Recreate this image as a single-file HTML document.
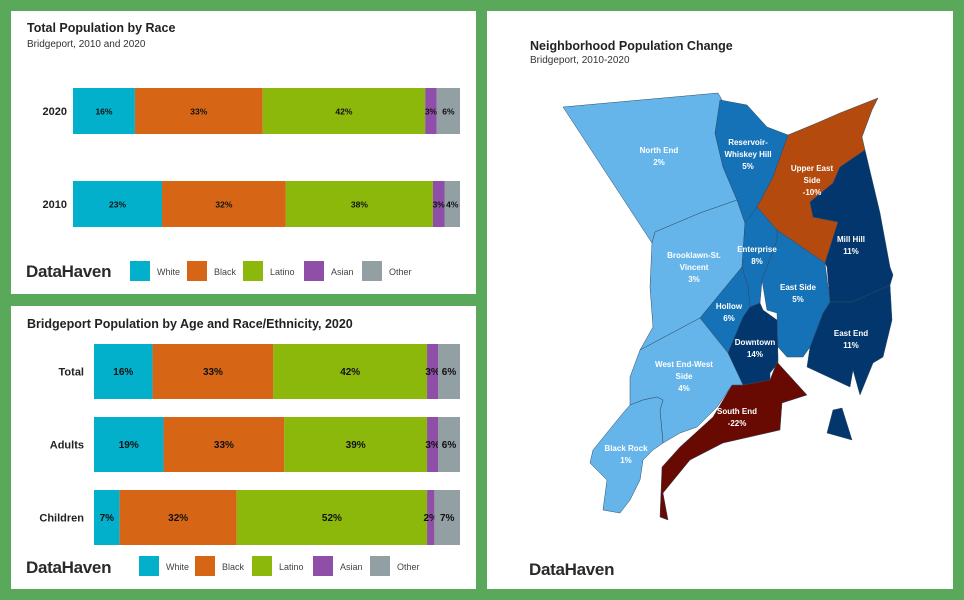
<!DOCTYPE html>
<html><head><meta charset="utf-8">
<style>
body{margin:0;width:964px;height:600px;background:#5aa85a;font-family:"Liberation Sans",sans-serif;position:relative;overflow:hidden}
.panel{position:absolute;background:#fff}
.t{position:absolute;font-weight:bold;font-size:12.5px;color:#222;white-space:nowrap}
.s{position:absolute;font-size:10px;color:#333;white-space:nowrap}
.logo{position:absolute;font-weight:bold;font-size:17px;color:#2a2a2a;letter-spacing:-0.3px}
svg{position:absolute;left:0;top:0}
</style></head><body>
<div class="panel" style="left:11px;top:11px;width:465px;height:283px"></div>
<div class="panel" style="left:11px;top:306px;width:465px;height:283px"></div>
<div class="panel" style="left:487px;top:11px;width:466px;height:578px"></div>
<div class="t" style="left:27px;top:21px">Total Population by Race</div>
<div class="s" style="left:27px;top:39px">Bridgeport, 2010 and 2020</div>
<div class="t" style="left:27px;top:317px">Bridgeport Population by Age and Race/Ethnicity, 2020</div>
<div class="t" style="left:530px;top:39px">Neighborhood Population Change</div>
<div class="s" style="left:530px;top:55px">Bridgeport, 2010-2020</div>
<div class="logo" style="left:26px;top:262px">DataHaven</div>
<div class="logo" style="left:26px;top:558px">DataHaven</div>
<div class="logo" style="left:529px;top:560px">DataHaven</div>
<svg id="svg" width="964" height="600"></svg>
<script>
const races=["White","Black","Latino","Asian","Other"];
const colors=["#02b0cb","#d66615","#8cb70b","#8f4fa8","#929fa3"];
const years=["2020","2010"];
const raceVals2020=[16,33,42,3,6];
const raceVals2010=[23,32,38,3,4];
const groups=["Total","Adults","Children"];
const ageTotal=[16,33,42,3,6];
const ageAdults=[19,33,39,3,6];
const ageChildren=[7,32,52,2,7];
const NS="http://www.w3.org/2000/svg";
const svg=document.getElementById('svg');
function mk(tag,attrs,parent){const e=document.createElementNS(NS,tag);for(const k in attrs)e.setAttribute(k,attrs[k]);(parent||svg).appendChild(e);return e;}
function stack(vals,x0,x1,y,h,fs,lfs,label,ly,nameBase){
  const tot=vals.reduce((a,b)=>a+b,0);let x=x0;
  const t=mk('text',{x:ly,y:y+h/2+4,'text-anchor':'end','font-size':lfs,'font-weight':'bold',fill:'#222'});t.textContent=label;
  
  
  vals.forEach((v,i)=>{
    const w=v/tot*(x1-x0);
    const r=mk('rect',{x:x,y:y,width:w,height:h,fill:colors[i]});
    
    
    const tx=mk('text',{x:x+w/2,y:y+h/2+3.5,'text-anchor':'middle','font-size':fs,'font-weight':'bold',fill:'#111'});
    tx.textContent=v+'%';
    
    
    x+=w;
  });
}
stack(raceVals2020,73,460,88,46,8.5,11,years[0],67,'bar-2020');
stack(raceVals2010,73,460,181,46,8.5,11,years[1],67,'bar-2010');
stack(ageTotal,94,460,344,55,10,11,groups[0],84,'bar-total');
stack(ageAdults,94,460,417,55,10,11,groups[1],84,'bar-adults');
stack(ageChildren,94,460,490,55,10,11,groups[2],84,'bar-children');
function legend(xs,y){races.forEach((r,i)=>{
  const s=mk('rect',{x:xs[i],y:y,width:20,height:20,fill:colors[i]});
  
  
  const t=mk('text',{x:xs[i]+27,y:y+14,'font-size':9,fill:'#444'});t.textContent=r;
  
  
});}
legend([130,187,243,304,362],261);
legend([139,195,252,313,370],556);
// map
const LB="#66b5ea",MB="#1672b6",NV="#03366c",OR="#b54a0e",MR="#690a02";
const hoods=[
 ["north-end",LB,"563,107 718,93 722,100 715,133 723,167 737,200 700,213 655,232 652,243"],
 ["brooklawn",LB,"652,243 655,232 700,213 737,200 745,223 742,267 700,318 640,350 653,327 650,287"],
 ["reservoir",MB,"720,100 747,105 767,127 788,135 773,177 757,207 745,223 737,200 723,167 715,133"],
 ["upper-east",OR,"788,135 817,123 840,113 878,98 872,110 862,137 865,150 840,167 833,183 810,202 813,217 838,222 825,263 777,230 757,207 773,177"],
 ["mill-hill",NV,"865,150 880,213 890,267 893,275 890,285 852,302 830,302 827,267 825,263 838,222 813,217 810,202 833,183 840,167"],
 ["east-end",NV,"890,285 892,320 883,357 873,363 860,395 853,370 850,387 807,367 810,347 823,313 830,302 852,302"],
 ["east-end-island",NV,"833,410 842,408 852,440 827,433"],
 ["east-side",MB,"777,230 825,263 830,302 823,313 810,347 803,357 787,357 778,347 777,313 767,310 762,280 767,267 777,240"],
 ["enterprise",MB,"757,207 777,230 777,240 767,267 762,280 760,303 750,307 748,287 742,267 745,223"],
 ["hollow",MB,"742,267 748,287 750,307 743,317 728,353 700,318"],
 ["downtown",NV,"750,307 760,303 763,310 777,320 778,357 778,363 770,373 770,380 743,385 728,353 743,317"],
 ["south-end",MR,"743,385 770,380 777,362 807,395 782,403 780,430 767,433 723,443 690,460 663,493 668,520 660,517 662,467 680,447 713,417 732,385"],
 ["west-end",LB,"700,318 728,353 743,385 732,385 717,407 697,427 680,433 663,443 660,410 663,400 657,397 643,400 630,405 630,377 640,350"],
 ["black-rock",LB,"643,400 657,397 663,400 660,410 663,443 653,450 643,460 640,480 630,500 620,513 603,510 607,480 590,463 593,450 623,413 630,405"]
];
hoods.forEach(h=>{const p=mk('polygon',{points:h[2],fill:h[1],stroke:'#2d4a66','stroke-width':0.5});
 
 });
const labels=[["North End","2%",659,153],["Reservoir-|Whiskey Hill","5%",748,145],["Upper East|Side","-10%",812,171],["Mill Hill","11%",851,242],["Brooklawn-St.|Vincent","3%",694,258],["Enterprise","8%",757,252],["East Side","5%",798,290],["Hollow","6%",729,309],["Downtown","14%",755,345],["East End","11%",851,336],["West End-West|Side","4%",684,367],["South End","-22%",737,414],["Black Rock","1%",626,451]];
labels.forEach(l=>{const lines=l[0].split('|').concat([l[1]]);
 const t=mk('text',{x:l[2],y:l[3],'text-anchor':'middle','font-size':8,'font-weight':'bold',fill:'#fff'});
 
 
 lines.forEach((s,i)=>{const ts=mk('tspan',{x:l[2],dy:i?12:0},t);ts.textContent=s;});});
</script>
</body></html>
